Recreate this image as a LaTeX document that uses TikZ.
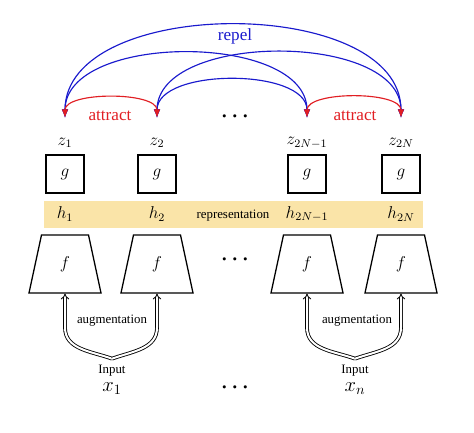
\documentclass[tikz,border=0pt]{standalone}
\usepackage{fontspec}
\setmainfont{Liberation Serif}
\usetikzlibrary{shapes.geometric,arrows.meta,calc}

\definecolor{repelblue}{RGB}{25,25,205}
\definecolor{attractred}{RGB}{225,30,35}
\definecolor{bandyellow}{RGB}{250,228,168}

\tikzset{
  gbox/.style={draw,line width=0.9pt,minimum size=26.6pt,inner sep=0pt,font=\large},
  fenc/.style={draw,line width=0.9pt,trapezium,trapezium left angle=80,trapezium right angle=80,
    trapezium stretches=true,minimum width=50.4pt,minimum height=40.6pt,inner sep=0pt,font=\large},
  repelarc/.style={repelblue,thick,{Latex[length=6pt,width=4.5pt]}-{Latex[length=6pt,width=4.5pt]}},
  attractarc/.style={attractred,thick,{Latex[length=6pt,width=4.5pt]}-{Latex[length=6pt,width=4.5pt]}},
  augarrow/.style={double,double distance=1.4pt,semithick,-{Implies}},
  dots/.style={font=\Large\boldmath},
}

\begin{document}
\begin{tikzpicture}[x=0.7pt,y=0.7pt]
\useasboundingbox (0,0) rectangle (474,432);

%=== representation band (behind the h labels) ===
\fill[bandyellow] (44,204) rectangle (423,231);
\node[font=\small] (rep) at (233,216) {representation};

%=== one column per view: z, g, h, f ===
\foreach \i/\cx/\lbl in {1/65/1, 2/157/2, 3/307/{2N-1}, 4/401/{2N}} {
  \node[font=\large] (z\i) at (\cx,289) {$z_{\lbl}$};
  \node[gbox] (g\i) at (\cx,258) {$g$};
  \node[font=\large] (h\i) at (\cx,218) {$h_{\lbl}$};
  \node[fenc] (f\i) at (\cx,168) {$f$};
  \coordinate (a\i) at (\cx,314);  % arc end above z
}

% dots between the columns
\node[dots] (dtop) at (235,315) {$\cdots$};
\node[dots] (dmid) at (235,172) {$\cdots$};
\node[dots] (dbot) at (235,44) {$\cdots$};

%=== inputs and augmentation ===
\node[font=\small,inner sep=1pt] (in1) at (112,61) {Input};
\node[font=\Large] (x1) at (112,43) {$x_1$};
\node[font=\small,inner sep=1pt] (in2) at (355,61) {Input};
\node[font=\Large] (xn) at (355,43) {$x_n$};
\coordinate (j1) at ($(in1.north)+(0,5)$);
\coordinate (j2) at ($(in2.north)+(0,5)$);

\draw[augarrow] (j1) to[out=160,in=-90] ($(f1.south)+(0,-34)$) -- (f1.south);
\draw[augarrow] (j1) to[out=20,in=-90] ($(f2.south)+(0,-34)$) -- (f2.south);
\draw[augarrow] (j2) to[out=160,in=-90] ($(f3.south)+(0,-34)$) -- (f3.south);
\draw[augarrow] (j2) to[out=20,in=-90] ($(f4.south)+(0,-34)$) -- (f4.south);
\node[font=\small] (aug1) at (112,111) {augmentation};
\node[font=\small] (aug2) at (357,111) {augmentation};

%=== repel arcs (blue), then attract arcs (red) on top ===
\draw[repelarc] (a1) to[out=90,in=90,looseness=0.94] (a4);
\draw[repelarc] (a1) to[out=90,in=90,looseness=0.91] (a3);
\draw[repelarc] (a2) to[out=90,in=90,looseness=0.91] (a4);
\draw[repelarc] (a2) to[out=90,in=90,looseness=0.86] (a3);
\draw[attractarc] (a1) to[out=90,in=90,looseness=0.74] (a2);
\draw[attractarc] (a3) to[out=90,in=90,looseness=0.74] (a4);

\node[font=\large,text=repelblue] (repel) at (235,396) {repel};
\node[font=\large,text=attractred] (att1) at (110,316) {attract};
\node[font=\large,text=attractred] (att2) at (355,316) {attract};
\end{tikzpicture}
\end{document}
